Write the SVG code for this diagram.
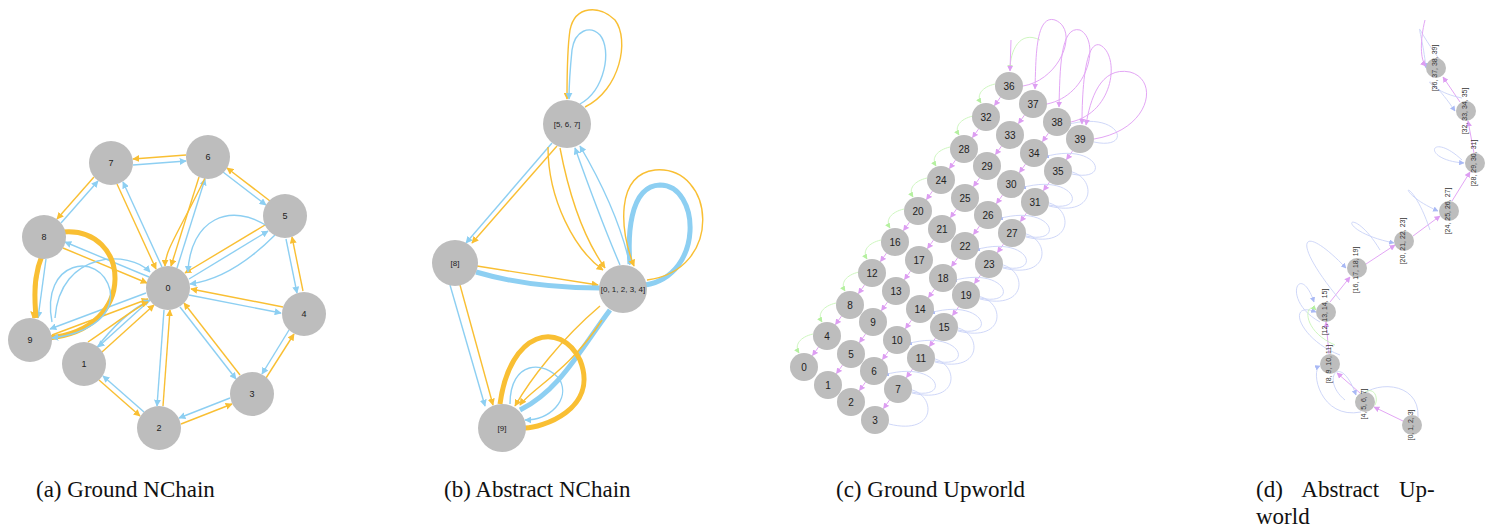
<svg xmlns="http://www.w3.org/2000/svg" xmlns:xlink="http://www.w3.org/1999/xlink" width="1502" height="529" viewBox="0 0 1502 529">
<style>
.n{fill:#bdbdbd}
.t{font-family:"Liberation Sans",Arial,sans-serif;font-size:9px;fill:#222;text-anchor:middle;dominant-baseline:central}
.tc{font-family:"Liberation Sans",Arial,sans-serif;font-size:10px;fill:#222;text-anchor:middle;dominant-baseline:central}
.td{font-family:"Liberation Sans",Arial,sans-serif;font-size:7px;fill:#333;text-anchor:middle;dominant-baseline:central}
.cap{font-family:"Liberation Serif","Times New Roman",serif;font-size:23px;fill:#111}
.o{fill:none;stroke:#f9bf33;stroke-width:1.4;marker-end:url(#ao)}
.b{fill:none;stroke:#8dcff2;stroke-width:1.4;marker-end:url(#ab)}
.O{fill:none;stroke:#f9bf33;stroke-width:5}
.B{fill:none;stroke:#8dcff2;stroke-width:5}
.pk{fill:none;stroke:#e3a6f5;stroke-width:1;marker-end:url(#ap)}
.gr{fill:none;stroke:#c8f5b8;stroke-width:0.9;marker-end:url(#ag)}
.bl{fill:none;stroke:#c9d2f7;stroke-width:0.9;marker-end:url(#abl)}
</style>
<defs>
<marker id="ao" viewBox="0 0 10 10" refX="9" refY="5" markerWidth="5" markerHeight="5" orient="auto"><path d="M0,0L10,5L0,10z" fill="#f9bf33"/></marker>
<marker id="ab" viewBox="0 0 10 10" refX="9" refY="5" markerWidth="5" markerHeight="5" orient="auto"><path d="M0,0L10,5L0,10z" fill="#8dcff2"/></marker>
<marker id="ap" viewBox="0 0 10 10" refX="9" refY="5" markerWidth="6" markerHeight="6" orient="auto"><path d="M0,0L10,5L0,10z" fill="#dd9ef2"/></marker>
<marker id="ag" viewBox="0 0 10 10" refX="9" refY="5" markerWidth="6" markerHeight="6" orient="auto"><path d="M0,0L10,5L0,10z" fill="#b5f0a0"/></marker>
<marker id="abl" viewBox="0 0 10 10" refX="9" refY="5" markerWidth="6" markerHeight="6" orient="auto"><path d="M0,0L10,5L0,10z" fill="#a9b9f5"/></marker>
<path id="pkE" class="pk" d="M14.5,-19.9L8.5,-11.5"/>
<path id="grE" class="gr" d="M9,-33C-4,-30 -10,-22 -5,-14"/>
<path id="blE" class="bl" d="M14,3C55,12 40,-30 -14,-14"/>
<path id="blE2" class="bl" d="M14,4C70,18 60,-40 20,-30"/>
</defs>

<g id="connectors">
<!-- (a) -->
<path class="o" d="M102,352L154,305"/><path class="b" d="M150,300L98,347"/>
<path class="o" d="M163,406L170,310"/><path class="b" d="M164,310L157,406"/>
<path class="o" d="M240,375L184,303"/><path class="b" d="M180,307L236,379"/>
<path class="o" d="M283,307L191,289"/><path class="b" d="M189,295L281,313"/>
<path class="o" d="M265,225L185,273"/><path class="b" d="M189,279L268,231"/>
<path class="o" d="M199,177L171,266"/><path class="b" d="M177,268L205,179"/>
<path class="o" d="M117,184L156,269"/><path class="b" d="M162,267L123,182"/>
<path class="o" d="M63,248L147,283"/><path class="b" d="M149,277L65,242"/>
<path class="o" d="M52,335L148,299"/><path class="b" d="M146,293L50,329"/>
<path class="o" d="M99,380L140,416"/><path class="b" d="M144,412L103,376"/>
<path class="o" d="M181,424L232,404"/><path class="b" d="M230,398L179,418"/>
<path class="o" d="M266,378L294,334"/><path class="b" d="M289,330L262,374"/>
<path class="o" d="M303,291L292,237"/><path class="b" d="M286,239L297,293"/>
<path class="o" d="M270,201L227,168"/><path class="b" d="M223,172L266,205"/>
<path class="o" d="M186,155L133,159"/><path class="b" d="M133,165L186,161"/>
<path class="o" d="M94,177L57,219"/><path class="b" d="M61,223L98,181"/>
<path class="o" d="M40,259L33,318"/><path class="b" d="M46,259L38,318"/>
<path class="b" d="M270,228C230,200 190,220 188,272"/>
<path class="o" d="M205,178C180,230 165,250 165,266"/>
<path class="b" d="M275,235C250,260 220,280 190,284"/>
<path class="b" d="M55,318C60,250 130,250 150,272"/>
<path class="b" d="M95,350C110,330 130,310 150,300"/>
<path class="o" d="M88,342C120,320 140,305 148,302"/>
<path class="O" d="M62,232C130,225 140,330 48,338"/>
<path class="O" d="M52,236C30,270 35,300 36,318"/>
<path class="b" d="M52,322C40,260 100,250 110,290C115,320 80,335 52,338"/>
<!-- (b) -->
<path class="o" d="M585,107C620,90 630,40 615,20C600,5 575,5 570,30C567,50 567,80 567,99"/>
<path class="b" d="M580,104C605,90 612,50 600,35C590,25 575,30 572,50C570,70 569,85 569,99"/>
<path class="b" d="M552,143L466,243"/>
<path class="o" d="M557,146L472,243"/>
<path class="o" d="M477,266L598,285"/>
<path class="B" d="M476,272C520,285 560,288 600,288"/>
<path class="o" d="M560,148C570,200 585,240 605,268"/>
<path class="o" d="M548,147C548,200 575,250 603,270"/>
<path class="b" d="M620,265C605,230 590,190 575,148"/>
<path class="b" d="M630,265C620,220 600,180 580,146"/>
<path class="B" d="M645,285C705,275 700,185 660,185C628,186 628,240 630,264"/>
<path class="o" d="M647,280C725,270 715,165 655,170C615,175 620,230 634,266"/>
<path class="B" d="M610,310C580,350 560,390 520,410"/>
<path class="o" d="M600,306C560,340 530,380 515,406"/>
<path class="O" d="M500,404C510,330 560,320 580,360C600,410 540,428 525,428"/>
<path class="b" d="M510,404C510,360 545,360 560,380C570,400 550,420 525,420"/>
<path class="o" d="M460,285L493,405"/>
<path class="b" d="M450,285L485,406"/>
<path class="o" d="M602,320C570,370 530,390 520,405"/>
<!-- (c) -->
<g id="pinkC">
<use href="#pkE" x="804" y="367"/><use href="#pkE" x="828" y="385"/><use href="#pkE" x="851" y="402"/><use href="#pkE" x="875" y="420"/>
<use href="#pkE" x="827" y="336"/><use href="#pkE" x="851" y="354"/><use href="#pkE" x="874" y="371"/><use href="#pkE" x="898" y="389"/>
<use href="#pkE" x="850" y="305"/><use href="#pkE" x="873" y="322"/><use href="#pkE" x="897" y="340"/><use href="#pkE" x="921" y="358"/>
<use href="#pkE" x="872" y="273"/><use href="#pkE" x="896" y="291"/><use href="#pkE" x="920" y="309"/><use href="#pkE" x="944" y="327"/>
<use href="#pkE" x="895" y="242"/><use href="#pkE" x="919" y="260"/><use href="#pkE" x="943" y="278"/><use href="#pkE" x="966" y="295"/>
<use href="#pkE" x="918" y="211"/><use href="#pkE" x="942" y="229"/><use href="#pkE" x="965" y="246"/><use href="#pkE" x="989" y="264"/>
<use href="#pkE" x="941" y="180"/><use href="#pkE" x="965" y="198"/><use href="#pkE" x="988" y="215"/><use href="#pkE" x="1012" y="233"/>
<use href="#pkE" x="964" y="149"/><use href="#pkE" x="987" y="166"/><use href="#pkE" x="1011" y="184"/><use href="#pkE" x="1035" y="202"/>
<use href="#pkE" x="986" y="117"/><use href="#pkE" x="1010" y="135"/><use href="#pkE" x="1034" y="153"/><use href="#pkE" x="1058" y="171"/>
</g>
<g id="greenC">
<use href="#grE" x="804" y="367"/><use href="#grE" x="827" y="336"/><use href="#grE" x="850" y="305"/><use href="#grE" x="872" y="273"/><use href="#grE" x="895" y="242"/>
<use href="#grE" x="918" y="211"/><use href="#grE" x="941" y="180"/><use href="#grE" x="964" y="149"/><use href="#grE" x="986" y="117"/>
<path class="gr" d="M1040,40C1020,30 1010,50 1010,70"/>
</g>
<g id="blueC">
<use href="#blE" x="898" y="389"/><use href="#blE" x="921" y="358"/><use href="#blE" x="944" y="327"/><use href="#blE" x="966" y="295"/>
<use href="#blE" x="989" y="264"/><use href="#blE" x="1012" y="233"/><use href="#blE" x="1035" y="202"/><use href="#blE" x="1058" y="171"/><use href="#blE" x="1080" y="139"/>
<use href="#blE2" x="875" y="420"/><use href="#blE2" x="898" y="389"/><use href="#blE2" x="921" y="358"/><use href="#blE2" x="944" y="327"/>
<use href="#blE2" x="966" y="295"/><use href="#blE2" x="989" y="264"/><use href="#blE2" x="1012" y="233"/><use href="#blE2" x="1035" y="202"/>
</g>
<g id="topLoops">
<path class="pk" d="M1023,86C1060,80 1080,30 1055,20C1035,14 1036,60 1035,89"/>
<path class="pk" d="M1047,104C1090,95 1100,40 1080,30C1060,25 1060,70 1059,107"/>
<path class="pk" d="M1071,122C1115,112 1120,55 1100,45C1085,40 1082,90 1082,124"/>
<path class="pk" d="M1094,139C1150,130 1160,80 1130,72C1100,66 1090,100 1086,125"/>
<path class="pk" d="M1011,40L1010,71"/>
</g>
<!-- (d) -->
<g id="dEdges">
<path class="pk" d="M1403,421L1374,407"/><path class="pk" d="M1360,393L1337,373"/><path class="pk" d="M1329,354L1326,322"/>
<path class="pk" d="M1330,302L1350,277"/><path class="pk" d="M1366,264L1395,245"/><path class="pk" d="M1413,236L1440,216"/>
<path class="pk" d="M1452,201L1470,172"/><path class="pk" d="M1474,153L1468,121"/><path class="pk" d="M1460,102L1443,77"/>
<path class="bl" d="M1418,417C1420,380 1370,380 1358,400"/>
<path class="bl" d="M1361,412C1320,420 1310,370 1320,366"/>
<path class="bl" d="M1345,400C1320,380 1340,350 1356,395"/>
<path class="bl" d="M1340,355C1300,340 1285,300 1316,312"/>
<path class="bl" d="M1320,322C1280,300 1300,260 1314,302"/>
<path class="bl" d="M1340,300C1290,240 1300,220 1346,268"/>
<path class="bl" d="M1380,250C1350,200 1330,230 1394,243"/>
<path class="bl" d="M1430,230C1410,170 1390,190 1438,211"/>
<path class="bl" d="M1462,160C1430,130 1420,160 1464,163"/>
<path class="bl" d="M1462,98C1420,90 1420,60 1455,111"/>
<path class="bl" d="M1440,60C1410,20 1420,15 1426,68"/>
<path class="pk" d="M1425,20C1420,40 1420,60 1426,66"/>
<path class="gr" d="M1375,405C1380,395 1370,380 1356,402"/>
<path class="gr" d="M1335,345C1300,330 1305,300 1316,310"/>
</g>
</g>

<g id="nodesA">
<g id="a0"><circle class="n" cx="168" cy="288" r="22"/><text class="t" x="168" y="288">0</text></g>
<g id="a1"><circle class="n" cx="84" cy="364" r="22"/><text class="t" x="84" y="364">1</text></g>
<g id="a2"><circle class="n" cx="159" cy="428" r="22"/><text class="t" x="159" y="428">2</text></g>
<g id="a3"><circle class="n" cx="252" cy="394" r="22"/><text class="t" x="252" y="394">3</text></g>
<g id="a4"><circle class="n" cx="304" cy="314" r="22"/><text class="t" x="304" y="314">4</text></g>
<g id="a5"><circle class="n" cx="285" cy="216" r="22"/><text class="t" x="285" y="216">5</text></g>
<g id="a6"><circle class="n" cx="208" cy="157" r="22"/><text class="t" x="208" y="157">6</text></g>
<g id="a7"><circle class="n" cx="111" cy="163" r="22"/><text class="t" x="111" y="163">7</text></g>
<g id="a8"><circle class="n" cx="44" cy="237" r="22"/><text class="t" x="44" y="237">8</text></g>
<g id="a9"><circle class="n" cx="30" cy="340" r="22"/><text class="t" x="30" y="340">9</text></g>
</g>
<g id="nodesB">
<g id="b567"><circle class="n" cx="567" cy="124" r="24"/><text class="t" x="567" y="124" style="font-size:8px">[5, 6, 7]</text></g>
<g id="b8"><circle class="n" cx="455" cy="263" r="23"/><text class="t" x="455" y="263" style="font-size:8px">[8]</text></g>
<g id="b01234"><circle class="n" cx="623" cy="289" r="24"/><text class="t" x="623" y="289" style="font-size:8px">[0, 1, 2, 3, 4]</text></g>
<g id="b9"><circle class="n" cx="502" cy="428" r="24"/><text class="t" x="502" y="428" style="font-size:8px">[9]</text></g>
</g>
<g id="nodesC">
<g id="c0"><circle class="n" cx="804" cy="367" r="14"/><text class="tc" x="804" y="367">0</text></g>
<g id="c1"><circle class="n" cx="828" cy="385" r="14"/><text class="tc" x="828" y="385">1</text></g>
<g id="c2"><circle class="n" cx="851" cy="402" r="14"/><text class="tc" x="851" y="402">2</text></g>
<g id="c3"><circle class="n" cx="875" cy="420" r="14"/><text class="tc" x="875" y="420">3</text></g>
<g id="c4"><circle class="n" cx="827" cy="336" r="14"/><text class="tc" x="827" y="336">4</text></g>
<g id="c5"><circle class="n" cx="851" cy="354" r="14"/><text class="tc" x="851" y="354">5</text></g>
<g id="c6"><circle class="n" cx="874" cy="371" r="14"/><text class="tc" x="874" y="371">6</text></g>
<g id="c7"><circle class="n" cx="898" cy="389" r="14"/><text class="tc" x="898" y="389">7</text></g>
<g id="c8"><circle class="n" cx="850" cy="305" r="14"/><text class="tc" x="850" y="305">8</text></g>
<g id="c9"><circle class="n" cx="873" cy="322" r="14"/><text class="tc" x="873" y="322">9</text></g>
<g id="c10"><circle class="n" cx="897" cy="340" r="14"/><text class="tc" x="897" y="340">10</text></g>
<g id="c11"><circle class="n" cx="921" cy="358" r="14"/><text class="tc" x="921" y="358">11</text></g>
<g id="c12"><circle class="n" cx="872" cy="273" r="14"/><text class="tc" x="872" y="273">12</text></g>
<g id="c13"><circle class="n" cx="896" cy="291" r="14"/><text class="tc" x="896" y="291">13</text></g>
<g id="c14"><circle class="n" cx="920" cy="309" r="14"/><text class="tc" x="920" y="309">14</text></g>
<g id="c15"><circle class="n" cx="944" cy="327" r="14"/><text class="tc" x="944" y="327">15</text></g>
<g id="c16"><circle class="n" cx="895" cy="242" r="14"/><text class="tc" x="895" y="242">16</text></g>
<g id="c17"><circle class="n" cx="919" cy="260" r="14"/><text class="tc" x="919" y="260">17</text></g>
<g id="c18"><circle class="n" cx="943" cy="278" r="14"/><text class="tc" x="943" y="278">18</text></g>
<g id="c19"><circle class="n" cx="966" cy="295" r="14"/><text class="tc" x="966" y="295">19</text></g>
<g id="c20"><circle class="n" cx="918" cy="211" r="14"/><text class="tc" x="918" y="211">20</text></g>
<g id="c21"><circle class="n" cx="942" cy="229" r="14"/><text class="tc" x="942" y="229">21</text></g>
<g id="c22"><circle class="n" cx="965" cy="246" r="14"/><text class="tc" x="965" y="246">22</text></g>
<g id="c23"><circle class="n" cx="989" cy="264" r="14"/><text class="tc" x="989" y="264">23</text></g>
<g id="c24"><circle class="n" cx="941" cy="180" r="14"/><text class="tc" x="941" y="180">24</text></g>
<g id="c25"><circle class="n" cx="965" cy="198" r="14"/><text class="tc" x="965" y="198">25</text></g>
<g id="c26"><circle class="n" cx="988" cy="215" r="14"/><text class="tc" x="988" y="215">26</text></g>
<g id="c27"><circle class="n" cx="1012" cy="233" r="14"/><text class="tc" x="1012" y="233">27</text></g>
<g id="c28"><circle class="n" cx="964" cy="149" r="14"/><text class="tc" x="964" y="149">28</text></g>
<g id="c29"><circle class="n" cx="987" cy="166" r="14"/><text class="tc" x="987" y="166">29</text></g>
<g id="c30"><circle class="n" cx="1011" cy="184" r="14"/><text class="tc" x="1011" y="184">30</text></g>
<g id="c31"><circle class="n" cx="1035" cy="202" r="14"/><text class="tc" x="1035" y="202">31</text></g>
<g id="c32"><circle class="n" cx="986" cy="117" r="14"/><text class="tc" x="986" y="117">32</text></g>
<g id="c33"><circle class="n" cx="1010" cy="135" r="14"/><text class="tc" x="1010" y="135">33</text></g>
<g id="c34"><circle class="n" cx="1034" cy="153" r="14"/><text class="tc" x="1034" y="153">34</text></g>
<g id="c35"><circle class="n" cx="1058" cy="171" r="14"/><text class="tc" x="1058" y="171">35</text></g>
<g id="c36"><circle class="n" cx="1009" cy="86" r="14"/><text class="tc" x="1009" y="86">36</text></g>
<g id="c37"><circle class="n" cx="1033" cy="104" r="14"/><text class="tc" x="1033" y="104">37</text></g>
<g id="c38"><circle class="n" cx="1057" cy="122" r="14"/><text class="tc" x="1057" y="122">38</text></g>
<g id="c39"><circle class="n" cx="1080" cy="139" r="14"/><text class="tc" x="1080" y="139">39</text></g>
</g>
<g id="nodesD">
<g id="d0"><circle class="n" cx="1412" cy="425" r="10"/><text class="td" transform="translate(1410,425) rotate(-90)">[0, 1, 2, 3]</text></g>
<g id="d1"><circle class="n" cx="1365" cy="402" r="10"/><text class="td" transform="translate(1363,404) rotate(-90)">[4, 5, 6, 7]</text></g>
<g id="d2"><circle class="n" cx="1330" cy="364" r="10"/><text class="td" transform="translate(1328,364) rotate(-90)">[8, 9, 10, 11]</text></g>
<g id="d3"><circle class="n" cx="1326" cy="312" r="10"/><text class="td" transform="translate(1324,312) rotate(-90)">[12, 13, 14, 15]</text></g>
<g id="d4"><circle class="n" cx="1357" cy="268" r="10"/><text class="td" transform="translate(1355,270) rotate(-90)">[16, 17, 18, 19]</text></g>
<g id="d5"><circle class="n" cx="1404" cy="241" r="10"/><text class="td" transform="translate(1402,241) rotate(-90)">[20, 21, 22, 23]</text></g>
<g id="d6"><circle class="n" cx="1449" cy="211" r="10"/><text class="td" transform="translate(1447,211) rotate(-90)">[24, 25, 26, 27]</text></g>
<g id="d7"><circle class="n" cx="1475" cy="163" r="10"/><text class="td" transform="translate(1473,163) rotate(-90)">[28, 29, 30, 31]</text></g>
<g id="d8"><circle class="n" cx="1466" cy="111" r="10"/><text class="td" transform="translate(1464,111) rotate(-90)">[32, 33, 34, 35]</text></g>
<g id="d9"><circle class="n" cx="1436" cy="68" r="10"/><text class="td" transform="translate(1434,68) rotate(-90)">[36, 37, 38, 39]</text></g>
</g>
<g id="captions">
<text class="cap" x="36" y="497">(a) Ground NChain</text>
<text class="cap" x="444" y="497">(b) Abstract NChain</text>
<text class="cap" x="836" y="497">(c) Ground Upworld</text>
<text class="cap" x="1256" y="497" word-spacing="14">(d) Abstract Up-</text>
<text class="cap" x="1256" y="524">world</text>
</g>
</svg>
